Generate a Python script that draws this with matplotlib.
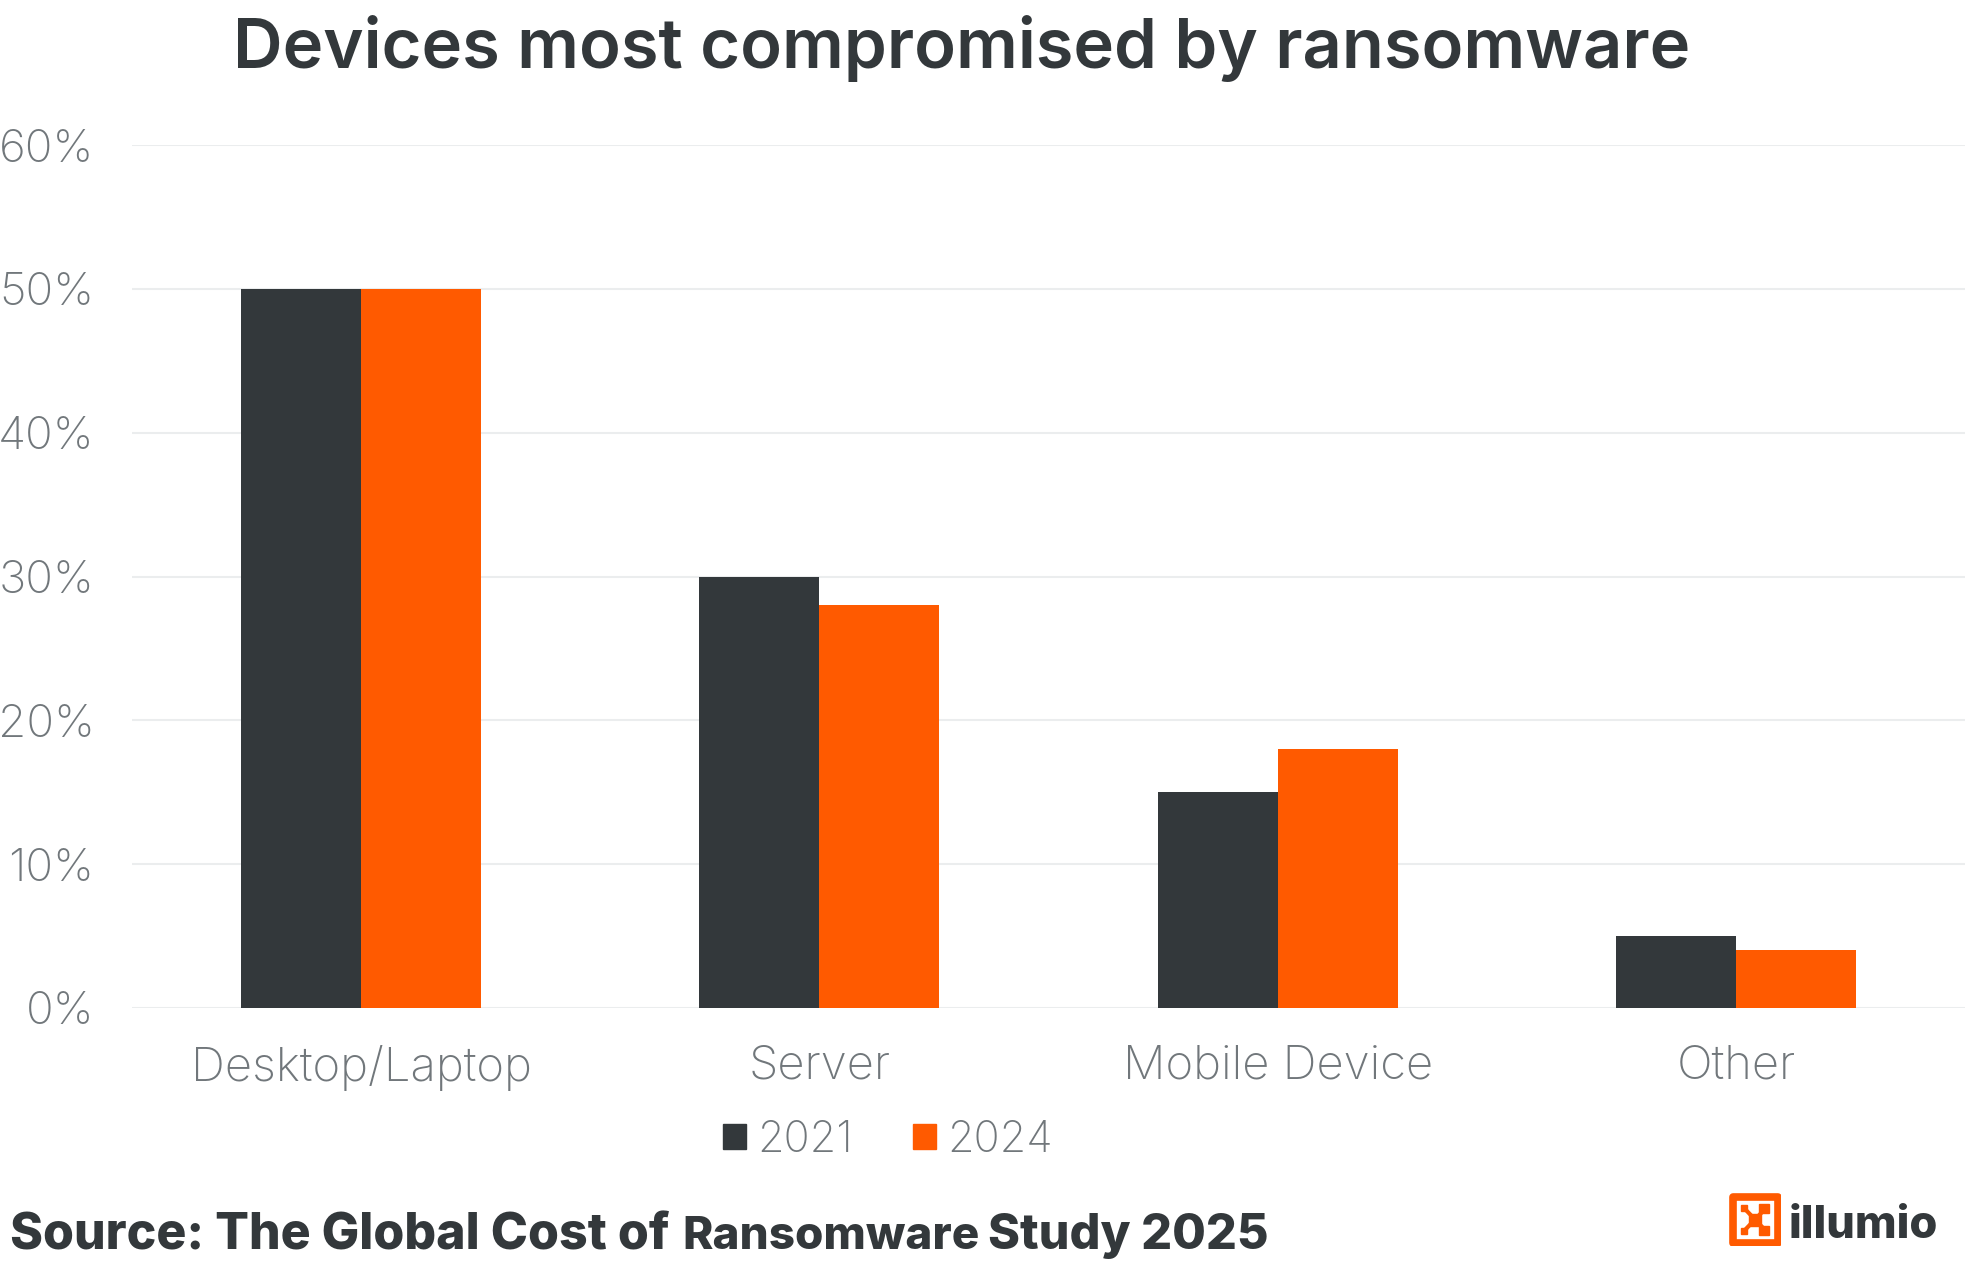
import matplotlib
matplotlib.use("Agg")
import matplotlib.pyplot as plt
from matplotlib.patches import Rectangle, Patch
from matplotlib.lines import Line2D

categories = ["Desktop/Laptop", "Server", "Mobile Device", "Other"]
series_names = ["2021", "2024"]
values_2021 = [50, 30, 15, 5]
values_2024 = [50, 28, 18, 4]
yticks = [0, 10, 20, 30, 40, 50, 60]

DARK = "#33383b"
ORANGE = "#ff5a00"
GREY = "#71777b"
GRID = "#ebedee"
W, H = 1984, 1280
FONT = ["Inter", "Open Sans", "DejaVu Sans"]
plt.rcParams["font.family"] = FONT

fig = plt.figure(figsize=(W / 100, H / 100), dpi=100, facecolor="white")
X = lambda x: x / W
Y = lambda y: 1 - y / H

ax = fig.add_axes([X(132), Y(1008), (1965 - 132) / W, (1008 - 145) / H])
xs = range(len(categories))
bw = 0.262
ax.bar([x - bw / 2 for x in xs], values_2021, bw, color=DARK, zorder=3)
ax.bar([x + bw / 2 for x in xs], values_2024, bw, color=ORANGE, zorder=3)
ax.set_xlim(-0.5, 3.5)
ax.set_ylim(0, 60)
ax.set_yticks(yticks)
ax.set_yticklabels([f"{v}%" for v in yticks], fontsize=33, color=GREY, fontweight="light")
ax.set_xticks(list(xs))
ax.set_xticklabels(categories, fontsize=34, color=GREY, fontweight="light")
ax.tick_params(axis="both", length=0)
ax.tick_params(axis="y", pad=27)
ax.tick_params(axis="x", pad=26.5)
ax.grid(axis="y", color=GRID, linewidth=1.5, zorder=0)
ax.set_axisbelow(True)
for s in ax.spines.values():
    s.set_visible(False)

fig.text(X(962), Y(68), "Devices most compromised by ransomware", ha="center", va="baseline",
         fontsize=49.5, fontweight="semibold", color=DARK)

handles = [Patch(color=DARK), Patch(color=ORANGE)]
fig.legend(handles, series_names, loc="center", bbox_to_anchor=(X(888), Y(1140)), ncol=2, frameon=False,
           labelcolor=GREY, handlelength=0.53, handleheight=0.53, handletextpad=0.26,
           columnspacing=1.4, prop={"size": 31, "weight": "light"})

for x0, s, sz in [(10, "Source: The Global Cost of", 36), (682, "Ransomware", 33), (988, "Study 2025", 35)]:
    fig.text(X(x0), Y(1249), s, ha="left", va="baseline", fontsize=sz, fontweight="heavy", color=DARK)

# brand logo
logo = fig.add_axes([X(1729), Y(1246), 52 / W, 53 / H])
logo.set_xlim(0, 52)
logo.set_ylim(53, 0)
logo.axis("off")
logo.add_patch(Rectangle((3.5, 3.5), 45, 46, fill=False, ec=ORANGE, lw=5.5, joinstyle="round"))
for a, b in [((15, 15), (37, 38)), ((37, 15), (15, 38))]:
    logo.add_line(Line2D([a[0], b[0]], [a[1], b[1]], color=ORANGE, lw=3))
logo.add_patch(Rectangle((20, 21), 12, 12, color=ORANGE))
logo.add_patch(Rectangle((30, 11), 10, 9, color=ORANGE))
logo.add_patch(Rectangle((30, 33), 10, 9, color=ORANGE))
logo.add_patch(Rectangle((12, 12), 6, 6, color=ORANGE))
logo.add_patch(Rectangle((12, 35), 6, 6, color=ORANGE))
fig.text(X(1789), Y(1238), "illumio", ha="left", va="baseline", fontsize=32.5, fontweight="heavy", color=DARK)

fig.savefig("out.png", dpi=100, facecolor="white")
